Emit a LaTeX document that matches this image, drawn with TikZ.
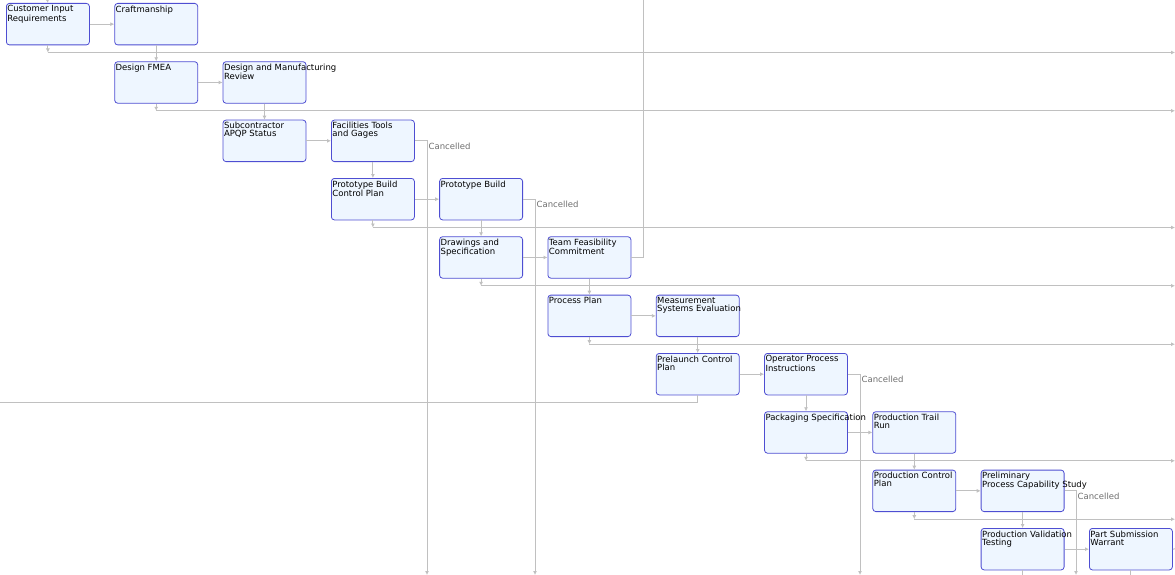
\documentclass[tikz,border=0pt]{standalone}
\usepackage{fontspec}
\setmainfont{DejaVu Sans}
\usetikzlibrary{arrows.meta}
\definecolor{boxblue}{RGB}{78,78,210}
\definecolor{boxfill}{RGB}{238,246,255}
\definecolor{linkgray}{RGB}{192,192,192}
\definecolor{cancelgray}{RGB}{110,110,110}

\begin{document}
\begin{tikzpicture}[x=1pt, y=-1pt,
  proc/.style={draw=boxblue, fill=boxfill, line width=0.8pt, rounded corners=3pt,
    minimum width=83pt, minimum height=41.5pt, inner sep=0pt, anchor=north west},
  txt/.style={anchor=north west, align=left, inner xsep=1.2pt, inner ysep=2.4pt,
    font=\fontsize{8.5}{8}\selectfont},
  link/.style={draw=linkgray, line width=1pt, ->, >={Latex[length=4pt,width=4pt]}},
  wire/.style={draw=linkgray, line width=1pt},
  cancel/.style={text=cancelgray, anchor=north west, inner sep=1.5pt,
    font=\fontsize{8.5}{8}\selectfont}]

\useasboundingbox (0,0) rectangle (1175,575);

% process boxes
\node[proc, label={[txt]north west:Customer Input\\Requirements}] (cir) at (6,3) {};
\node[proc, label={[txt]north west:Craftmanship}] (craft) at (114.3,3) {};
\node[proc, label={[txt]north west:Design FMEA}] (dfmea) at (114.3,61.3) {};
\node[proc, label={[txt]north west:Design and Manufacturing\\Review}] (dmr) at (222.6,61.3) {};
\node[proc, label={[txt]north west:Subcontractor\\APQP Status}] (sub) at (222.6,119.7) {};
\node[proc, label={[txt]north west:Facilities Tools\\and Gages}] (ftg) at (331,119.7) {};
\node[proc, label={[txt]north west:Prototype Build\\Control Plan}] (pbcp) at (331,178) {};
\node[proc, label={[txt]north west:Prototype Build}] (pb) at (439.2,178) {};
\node[proc, label={[txt]north west:Drawings and\\Specification}] (das) at (439.2,236.3) {};
\node[proc, label={[txt]north west:Team Feasibility\\Commitment}] (tfc) at (547.5,236.3) {};
\node[proc, label={[txt]north west:Process Plan}] (pp) at (547.5,294.7) {};
\node[proc, label={[txt]north west:Measurement\\Systems Evaluation}] (mse) at (655.8,294.7) {};
\node[proc, label={[txt]north west:Prelaunch Control\\Plan}] (pcp) at (655.8,353) {};
\node[proc, label={[txt]north west:Operator Process\\Instructions}] (opi) at (764.1,353) {};
\node[proc, label={[txt]north west:Packaging Specification}] (ps) at (764.1,411.3) {};
\node[proc, label={[txt]north west:Production Trail\\Run}] (ptr) at (872.4,411.3) {};
\node[proc, label={[txt]north west:Production Control\\Plan}] (prcp) at (872.4,469.7) {};
\node[proc, label={[txt]north west:Preliminary\\Process Capability Study}] (ppcs) at (980.7,469.7) {};
\node[proc, label={[txt]north west:Production Validation\\Testing}] (pvt) at (980.7,528) {};
\node[proc, label={[txt]north west:Part Submission\\Warrant}] (psw) at (1089,528) {};

% free ends at the border
\coordinate (top0) at (47.5,0);
\coordinate (top1) at (643,0);
\coordinate (r0) at (1175,52.5);
\coordinate (r1) at (1175,110.8);
\coordinate (r3) at (1175,227.5);
\coordinate (r4) at (1175,285.8);
\coordinate (r5) at (1175,344.2);
\coordinate (r7) at (1175,460.8);
\coordinate (r8) at (1175,519.2);
\coordinate (r9) at (1175,548.8);
\coordinate (lft) at (0,402.5);
\coordinate (bot) at (0,575);
\coordinate (c1) at (427,575);
\coordinate (c2) at (535,575);
\coordinate (c3) at (860,575);
\coordinate (c4) at (1076,575);

% links along each row
\draw[link] (cir.east) -- (craft.west);
\draw[link] (dfmea.east) -- (dmr.west);
\draw[link] (sub.east) -- (ftg.west);
\draw[link] (pbcp.east) -- (pb.west);
\draw[link] (das.east) -- (tfc.west);
\draw[link] (pp.east) -- (mse.west);
\draw[link] (pcp.east) -- (opi.west);
\draw[link] (ps.east) -- (ptr.west);
\draw[link] (prcp.east) -- (ppcs.west);
\draw[link] (pvt.east) -- (psw.west);

% links down to the next row
\draw[link] (top0) -- (cir.north);
\draw[link] (craft.south) -- (dfmea.north);
\draw[link] (dmr.south) -- (sub.north);
\draw[link] (ftg.south) -- (pbcp.north);
\draw[link] (pb.south) -- (das.north);
\draw[link] (tfc.south) -- (pp.north);
\draw[link] (mse.south) -- (pcp.north);
\draw[link] (opi.south) -- (ps.north);
\draw[link] (ptr.south) -- (prcp.north);
\draw[link] (ppcs.south) -- (pvt.north);

% links off to the right
\draw[link] (cir.south) -- (cir.south |- r0);
\draw[link] (cir.south |- r0) -- (r0);
\draw[link] (dfmea.south) -- (dfmea.south |- r1);
\draw[link] (dfmea.south |- r1) -- (r1);
\draw[link] (pbcp.south) -- (pbcp.south |- r3);
\draw[link] (pbcp.south |- r3) -- (r3);
\draw[link] (das.south) -- (das.south |- r4);
\draw[link] (das.south |- r4) -- (r4);
\draw[link] (pp.south) -- (pp.south |- r5);
\draw[link] (pp.south |- r5) -- (r5);
\draw[link] (ps.south) -- (ps.south |- r7);
\draw[link] (ps.south |- r7) -- (r7);
\draw[link] (prcp.south) -- (prcp.south |- r8);
\draw[link] (prcp.south |- r8) -- (r8);
\draw[wire] (psw.east) -- (r9);

% other open ends
\draw[wire] (tfc.east) -| (top1);
\draw[wire] (pcp.south) |- (lft);
\draw[wire] (pvt.south) -- (pvt.south |- bot);
\draw[wire] (psw.south) -- (psw.south |- bot);

% cancelled branches
\draw[link] (ftg.east) -| (c1);
\node[cancel] (cl1) at (ftg.east -| c1) {Cancelled};
\draw[link] (pb.east) -| (c2);
\node[cancel] (cl2) at (pb.east -| c2) {Cancelled};
\draw[link] (opi.east) -| (c3);
\node[cancel] (cl3) at (opi.east -| c3) {Cancelled};
\draw[link] (ppcs.east) -| (c4);
\node[cancel] (cl4) at (ppcs.east -| c4) {Cancelled};

\end{tikzpicture}
\end{document}
